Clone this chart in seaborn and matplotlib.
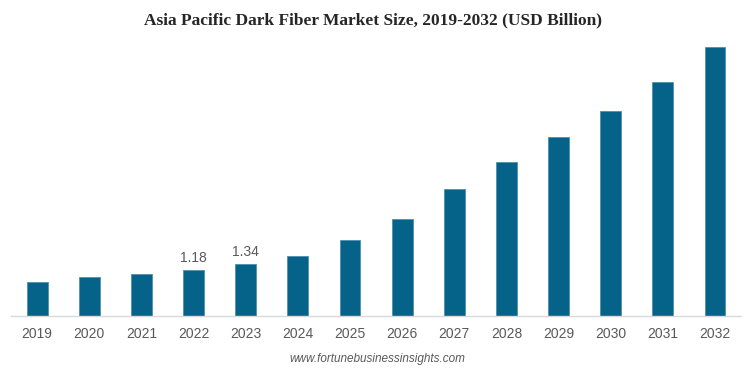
import matplotlib
matplotlib.use("Agg")
import matplotlib.pyplot as plt
import seaborn as sns
import pandas as pd

# values (USD billion)
years = ["2019", "2020", "2021", "2022", "2023", "2024", "2025",
         "2026", "2027", "2028", "2029", "2030", "2031", "2032"]
market_size = [0.86, 0.99, 1.09, 1.18, 1.34, 1.55, 1.95,
               2.50, 3.25, 3.95, 4.60, 5.25, 5.99, 6.90]
labelled_years = ["2022", "2023"]

df = pd.DataFrame({"year": years, "size": market_size})

sns.set_style("white")
fig = plt.figure(figsize=(7.45, 3.72), dpi=100)
ax = fig.add_axes([0.0148, 0.1505, 0.98, 0.742])

sns.barplot(data=df, x="year", y="size", color="#05638a", width=0.4,
            saturation=1, ax=ax, edgecolor="#4f8fae", linewidth=0.6)

for i, (yr, v) in enumerate(zip(years, market_size)):
    if yr in labelled_years:
        ax.text(i, v + 0.12, f"{v:.2f}", ha="center", va="bottom",
                fontsize=10, color="#595959", family="Liberation Sans")

ax.set_xlim(-0.5, len(years) - 0.5)
ax.set_ylim(0, 7.08)
ax.set_xlabel("")
ax.set_ylabel("")
ax.set_yticks([])
ax.tick_params(axis="x", length=0, pad=8, labelsize=10, labelcolor="#595959")
for lbl in ax.get_xticklabels():
    lbl.set_family("Liberation Sans")
for side in ["top", "left", "right"]:
    ax.spines[side].set_visible(False)
ax.spines["bottom"].set_color("#d9d9d9")
ax.spines["bottom"].set_linewidth(1)

fig.text(0.5, 0.945, "Asia Pacific Dark Fiber Market Size, 2019-2032 (USD Billion)",
         ha="center", va="center", fontsize=12.5, fontweight="bold",
         family="Liberation Serif", color="#262626")
fig.text(0.506, 0.035, "www.fortunebusinessinsights.com", ha="center", va="center",
         fontsize=8.5, style="italic", color="#595959", family="Liberation Sans")

fig.savefig("out.png", dpi=100)
